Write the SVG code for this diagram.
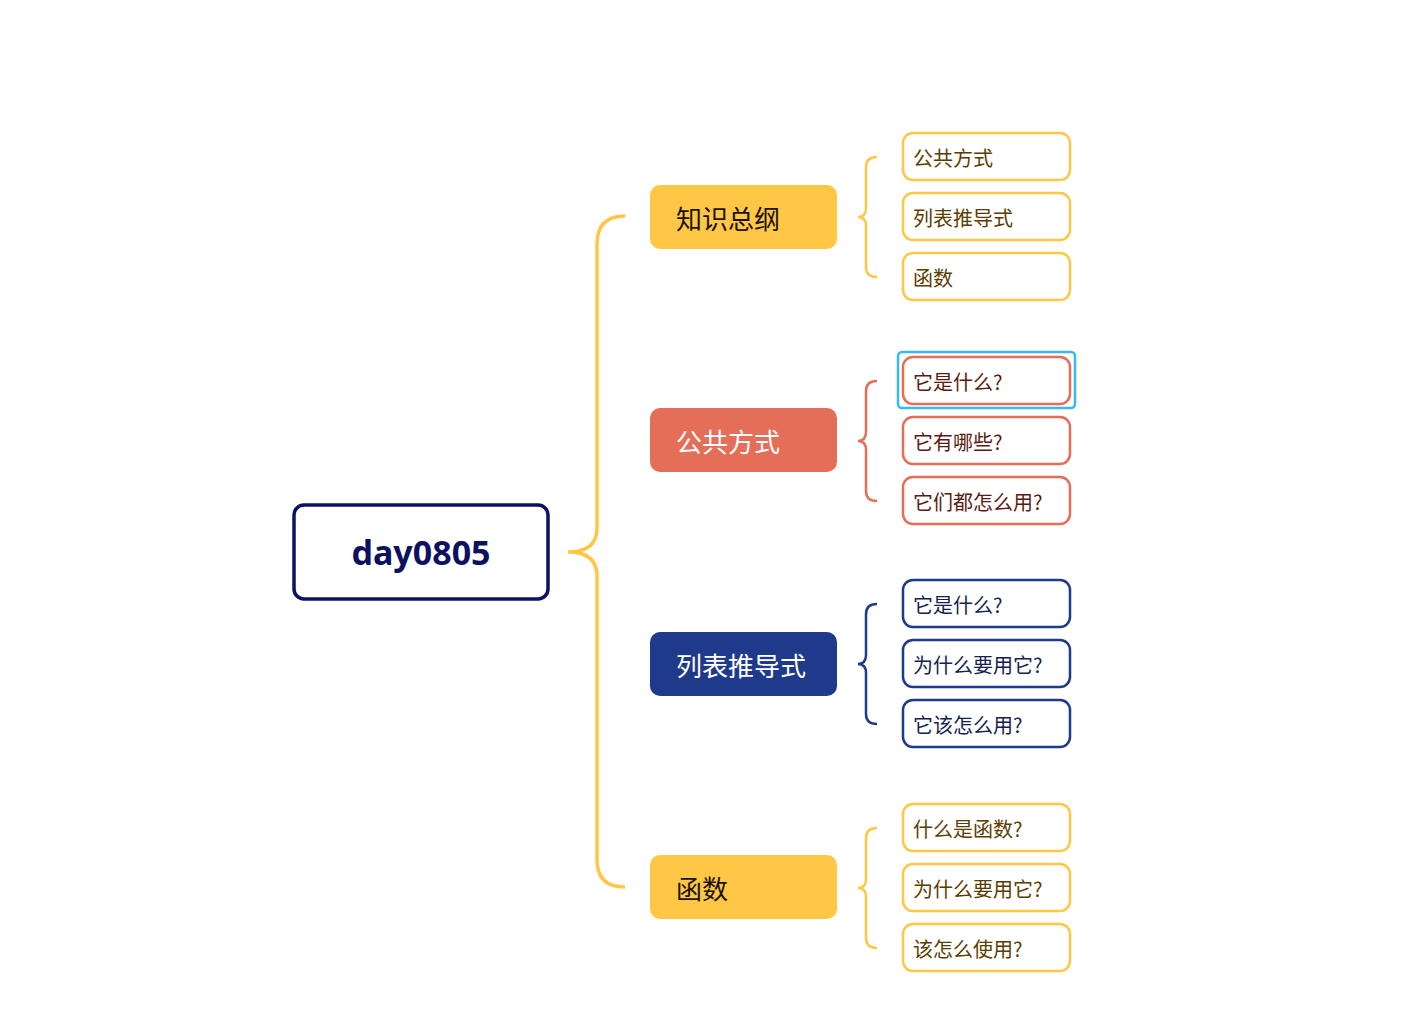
<svg xmlns="http://www.w3.org/2000/svg" width="1404" height="1014" viewBox="0 0 1404 1014">
<style>
text{font-family:"Noto Sans CJK SC","Noto Sans",sans-serif;dominant-baseline:central}
.m{font-size:26px}
.l{font-size:20px}
.leaf{fill:#fff;stroke-width:2.5}
.br{fill:none;stroke-width:2.5}
.y{stroke:#ffc745}.r{stroke:#e46e58}.b{stroke:#1f3a8a}
</style>
<rect width="1404" height="1014" fill="#fff"/>
<g id="connectors">
<path class="br y" stroke-width="3.5" style="stroke-width:3.5" d="M625,216 Q597,216 597,244 L597,528 Q597,552 568,552 Q597,552 597,576 L597,860 Q597,887 625,887"/>
<path class="br y" d="M877,157 Q866,157 866,167 L866,208 Q866,217 858,217 Q866,217 866,226 L866,267 Q866,277 877,277"/>
<path class="br r" d="M877,381 Q866,381 866,391 L866,432 Q866,441 858,441 Q866,441 866,450 L866,491 Q866,501 877,501"/>
<path class="br b" d="M877,604 Q866,604 866,614 L866,655 Q866,664 858,664 Q866,664 866,673 L866,714 Q866,724 877,724"/>
<path class="br y" d="M877,828 Q866,828 866,838 L866,879 Q866,888 858,888 Q866,888 866,897 L866,938 Q866,948 877,948"/>
</g>
<g id="root"><rect x="294" y="505" width="254" height="94" rx="10" fill="#fff" stroke="#0c1160" stroke-width="3.5"/><text x="421" y="552" text-anchor="middle" font-size="34" font-weight="bold" fill="#0c1160" style="font-family:'Noto Sans',sans-serif">day0805</text></g>
<g id="m1"><rect x="650" y="185" width="187" height="64" rx="10" fill="#ffc745"/><text class="m" x="676" y="217" fill="#1a1200">知识总纲</text></g>
<g id="m2"><rect x="650" y="408" width="187" height="64" rx="10" fill="#e46e58"/><text class="m" x="676" y="440" fill="#fff">公共方式</text></g>
<g id="m3"><rect x="650" y="632" width="187" height="64" rx="10" fill="#1f3a8a"/><text class="m" x="676" y="664" fill="#fff">列表推导式</text></g>
<g id="m4"><rect x="650" y="855" width="187" height="64" rx="10" fill="#ffc745"/><text class="m" x="676" y="887" fill="#1a1200">函数</text></g>
<g id="l1a"><rect class="leaf y" x="903" y="133" width="167" height="47" rx="10"/><text class="l" x="913" y="157" fill="#5a3d00">公共方式</text></g>
<g id="l1b"><rect class="leaf y" x="903" y="193" width="167" height="47" rx="10"/><text class="l" x="913" y="217" fill="#5a3d00">列表推导式</text></g>
<g id="l1c"><rect class="leaf y" x="903" y="253" width="167" height="47" rx="10"/><text class="l" x="913" y="277" fill="#5a3d00">函数</text></g>
<g id="l2a"><rect x="898" y="352" width="177" height="56" rx="4" fill="none" stroke="#3bb8f0" stroke-width="2.5"/><rect class="leaf r" x="903" y="357" width="167" height="47" rx="10"/><text class="l" x="913" y="381" fill="#5a1a10">它是什么?</text></g>
<g id="l2b"><rect class="leaf r" x="903" y="417" width="167" height="47" rx="10"/><text class="l" x="913" y="441" fill="#5a1a10">它有哪些?</text></g>
<g id="l2c"><rect class="leaf r" x="903" y="477" width="167" height="47" rx="10"/><text class="l" x="913" y="501" fill="#5a1a10">它们都怎么用?</text></g>
<g id="l3a"><rect class="leaf b" x="903" y="580" width="167" height="47" rx="10"/><text class="l" x="913" y="604" fill="#14224f">它是什么?</text></g>
<g id="l3b"><rect class="leaf b" x="903" y="640" width="167" height="47" rx="10"/><text class="l" x="913" y="664" fill="#14224f">为什么要用它?</text></g>
<g id="l3c"><rect class="leaf b" x="903" y="700" width="167" height="47" rx="10"/><text class="l" x="913" y="724" fill="#14224f">它该怎么用?</text></g>
<g id="l4a"><rect class="leaf y" x="903" y="804" width="167" height="47" rx="10"/><text class="l" x="913" y="828" fill="#5a3d00">什么是函数?</text></g>
<g id="l4b"><rect class="leaf y" x="903" y="864" width="167" height="47" rx="10"/><text class="l" x="913" y="888" fill="#5a3d00">为什么要用它?</text></g>
<g id="l4c"><rect class="leaf y" x="903" y="924" width="167" height="47" rx="10"/><text class="l" x="913" y="948" fill="#5a3d00">该怎么使用?</text></g>
</svg>
